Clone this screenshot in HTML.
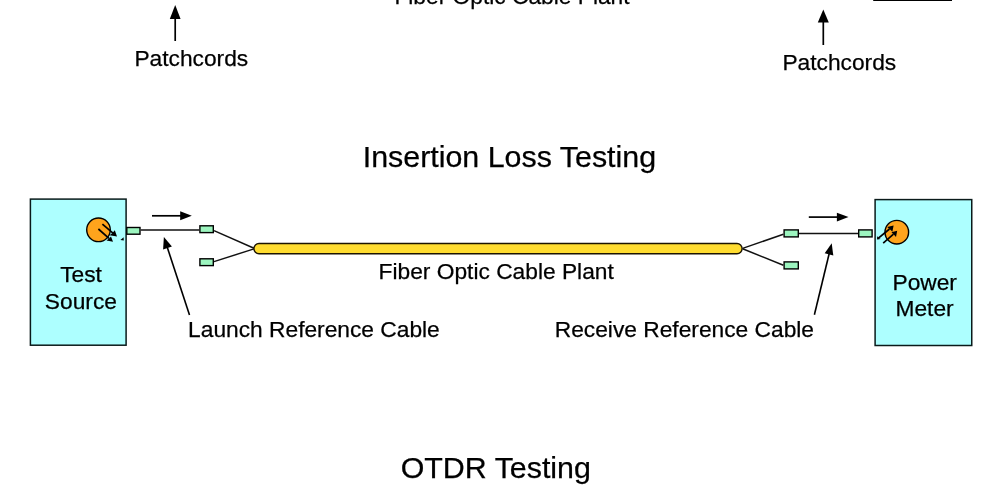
<!DOCTYPE html>
<html>
<head>
<meta charset="utf-8">
<style>
html,body{margin:0;padding:0;background:#fff;}
body{width:1000px;height:500px;overflow:hidden;position:relative;}
svg{position:absolute;left:0;top:0;display:block;filter:blur(0.35px);}
text{font-family:"Liberation Sans",sans-serif;fill:#000;stroke:#000;stroke-width:0.25px;}
.s{font-size:22.75px;}
.b{font-size:30.4px;}
</style>
</head>
<body>
<svg width="1000" height="500" viewBox="0 0 1000 500">
<rect x="0" y="0" width="1000" height="500" fill="#ffffff"/>

<!-- top cut-off text -->
<text class="s" x="512" y="3.800" text-anchor="middle">Fiber Optic Cable Plant</text>
<!-- top-right line -->
<line x1="873.200" y1="0" x2="952" y2="0" stroke="#000" stroke-width="1.800"/>

<!-- Patchcords left -->
<line x1="175.200" y1="41" x2="175.200" y2="16" stroke="#000" stroke-width="1.700"/>
<polygon points="175.200,5 169.800,19 180.600,19" fill="#000"/>
<text class="s" x="191.300" y="65.800" text-anchor="middle">Patchcords</text>

<!-- Patchcords right -->
<line x1="823.300" y1="45" x2="823.300" y2="20" stroke="#000" stroke-width="1.700"/>
<polygon points="823.300,9.400 817.800,22.600 828.800,22.600" fill="#000"/>
<text class="s" x="839.300" y="69.500" text-anchor="middle">Patchcords</text>

<!-- Title -->
<text class="b" x="509.400" y="167" text-anchor="middle">Insertion Loss Testing</text>

<!-- left box -->
<rect x="30.400" y="199.100" width="95.700" height="146.100" fill="#adffff" stroke="#0a1a1a" stroke-width="1.500"/>
<circle cx="98.500" cy="229.800" r="11.800" fill="#ffa41c" stroke="#000" stroke-width="1.400"/>
<g stroke="#000" stroke-width="1.700" fill="#000">
<line x1="102.400" y1="224.200" x2="113" y2="233.200"/>
<polygon points="117,236.400 109.600,235.200 112.400,233 114.800,230.300" stroke="none"/>
<line x1="98.400" y1="229" x2="109" y2="238.400"/>
<polygon points="113,241.800 106.500,240.500 109,238.400 111,236.500" stroke="none"/>
<polygon points="120.400,240 123.600,237.200 123.800,240.500" stroke="none"/>
</g>
<text class="s" x="81" y="281.700" text-anchor="middle">Test</text>
<text class="s" x="80.900" y="308.600" text-anchor="middle">Source</text>

<!-- left connectors -->
<g fill="#9cf5bf" stroke="#000" stroke-width="1.400">
<rect x="126.800" y="227.500" width="13.200" height="6.700"/>
<rect x="199.900" y="225.800" width="13.400" height="6.800"/>
<rect x="199.900" y="258.800" width="13.400" height="6.800"/>
</g>
<g stroke="#111" stroke-width="1.500" fill="none">
<line x1="140.600" y1="229.900" x2="199.200" y2="229.900"/>
<line x1="214" y1="230.600" x2="254" y2="248.200"/>
<line x1="214" y1="261.600" x2="254" y2="248.900"/>
</g>
<!-- small arrow left -->
<line x1="152" y1="215.800" x2="182" y2="215.800" stroke="#000" stroke-width="1.700"/>
<polygon points="191.800,215.800 180.200,211.300 180.200,220.300" fill="#000"/>

<!-- cable -->
<rect x="253.900" y="243.500" width="488.200" height="10.200" rx="5.100" ry="5.100" fill="#ffdc30" stroke="#1c1400" stroke-width="1.400"/>
<text class="s" x="496.200" y="279.300" text-anchor="middle">Fiber Optic Cable Plant</text>

<!-- launch arrow -->
<line x1="189.500" y1="315" x2="167" y2="246.500" stroke="#000" stroke-width="1.600"/>
<polygon points="163.900,237 163.100,249.400 171.900,246.500" fill="#000"/>
<text class="s" x="188.100" y="337.200">Launch Reference Cable</text>

<!-- right connectors -->
<g fill="#9cf5bf" stroke="#000" stroke-width="1.400">
<rect x="784.100" y="229.900" width="14.200" height="7"/>
<rect x="784.100" y="261.900" width="14.200" height="7"/>
<rect x="858.700" y="229.900" width="13.400" height="7"/>
</g>
<g stroke="#111" stroke-width="1.500" fill="none">
<line x1="799" y1="233.600" x2="858" y2="233.600"/>
<line x1="742.600" y1="248.400" x2="783.400" y2="234.300"/>
<line x1="742.600" y1="248.800" x2="783.400" y2="265.200"/>
</g>
<!-- small arrow right -->
<line x1="808.800" y1="217.100" x2="839" y2="217.100" stroke="#000" stroke-width="1.700"/>
<polygon points="848.500,217.100 836.900,212.700 836.900,221.500" fill="#000"/>

<!-- receive arrow -->
<line x1="814.400" y1="314.700" x2="829.200" y2="253.500" stroke="#000" stroke-width="1.600"/>
<polygon points="831.700,243.300 824.700,253.300 833.300,255.600" fill="#000"/>
<text class="s" x="814" y="337.200" text-anchor="end">Receive Reference Cable</text>

<!-- right box -->
<rect x="875.100" y="199.600" width="96.650" height="145.900" fill="#adffff" stroke="#0a1a1a" stroke-width="1.500"/>
<circle cx="896.800" cy="232.200" r="11.800" fill="#ffa41c" stroke="#000" stroke-width="1.400"/>
<g stroke="#000" stroke-width="1.700" fill="#000">
<line x1="877.800" y1="238.600" x2="889.500" y2="229"/>
<polygon points="893.600,225.600 887.200,227 889.600,229 892.400,231.800" stroke="none"/>
<line x1="883.200" y1="243.200" x2="893.500" y2="234.200"/>
<polygon points="897.200,230.800 891.400,232.200 893.600,234.200 896,237" stroke="none"/>
<polygon points="877,239.400 877.300,236 878.600,238 880.800,239" stroke="none"/>
</g>
<text class="s" x="924.700" y="289.500" text-anchor="middle">Power</text>
<text class="s" x="924.600" y="316.300" text-anchor="middle">Meter</text>

<!-- bottom title -->
<text class="b" x="495.800" y="478.300" text-anchor="middle">OTDR Testing</text>
</svg>
</body>
</html>
